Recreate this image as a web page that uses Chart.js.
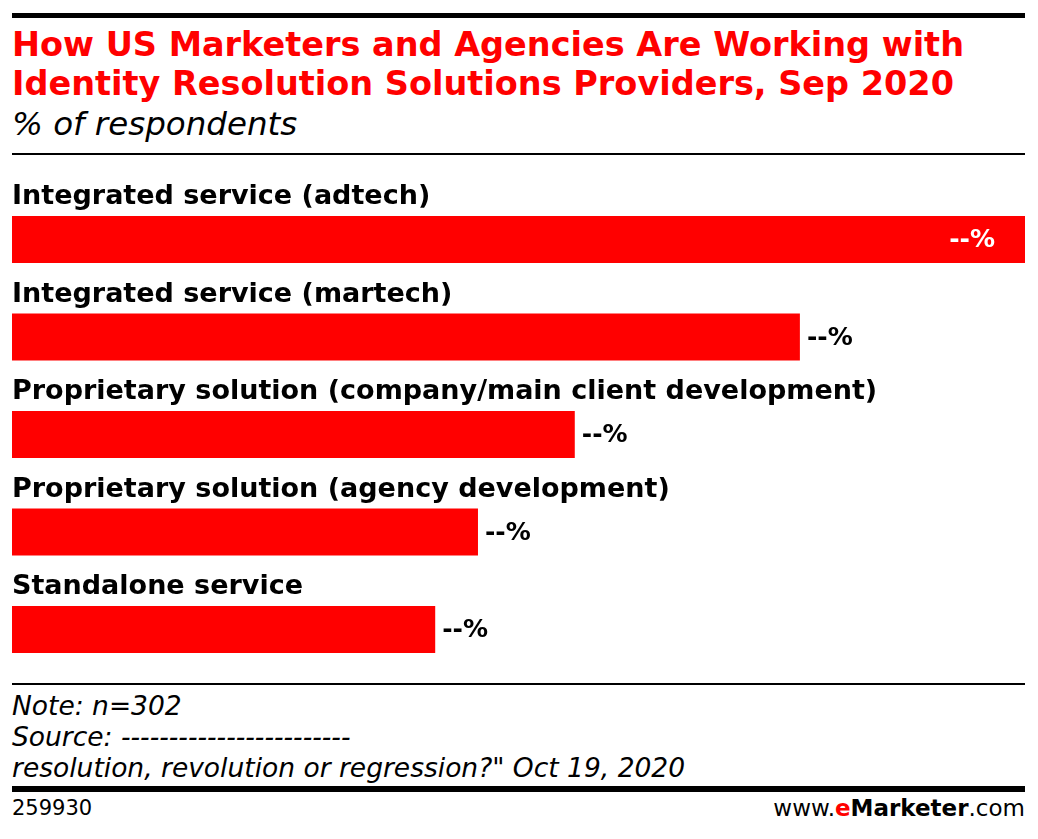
<!DOCTYPE html>
<html>
<head>
<meta charset="utf-8">
<script src="https://cdn.jsdelivr.net/npm/chart.js@4"></script>
<style>
  html, body { margin: 0; padding: 0; background: #fff; }
  body { width: 1038px; height: 839px; position: relative; overflow: hidden; font-family: "DejaVu Sans", sans-serif; }
  .rule { position: absolute; left: 12px; width: 1013px; background: #000; }
  #title { position: absolute; left: 12px; top: 25px; margin: 0; color: #ff0000; font: bold 33.5px/39px "DejaVu Sans", sans-serif; white-space: nowrap; }
  #subtitle { position: absolute; left: 12px; top: 106px; font: oblique 32.5px/36px "DejaVu Sans", sans-serif; color: #000; white-space: nowrap; }
  #notes { position: absolute; left: 12px; top: 690px; font: oblique 26.5px/31px "DejaVu Sans", sans-serif; color: #000; white-space: nowrap; }
  #id { position: absolute; left: 12px; top: 796px; font: 21px/24px "DejaVu Sans", sans-serif; color: #000; }
  #brand { position: absolute; right: 13px; top: 796px; font: 23px/24px "DejaVu Sans", sans-serif; color: #000; }
  #brand b { font-weight: bold; }
  #brand .e { color: #ff0000; font-weight: bold; }
  #wrap { position: absolute; left: 12px; top: 160px; width: 1013px; height: 520px; }
</style>
</head>
<body>
<div class="rule" style="top:13px;height:5px;"></div>
<h1 id="title">How US Marketers and Agencies Are Working with<br>Identity Resolution Solutions Providers, Sep 2020</h1>
<div id="subtitle">% of respondents</div>
<div class="rule" style="top:153px;height:2px;"></div>
<div id="wrap"><canvas id="c"></canvas></div>
<div class="rule" style="top:683px;height:2px;"></div>
<div id="notes">Note: n=302<br>Source: ------------------------<br>resolution, revolution or regression?" Oct 19, 2020</div>
<div class="rule" style="top:786px;height:6px;"></div>
<div id="id">259930</div>
<div id="brand">www.<span class="e">e</span><b>Marketer</b>.com</div>
<script>
const categories = [
  "Integrated service (adtech)",
  "Integrated service (martech)",
  "Proprietary solution (company/main client development)",
  "Proprietary solution (agency development)",
  "Standalone service"
];
const values = [45, 35, 25, 20.7, 18.8];
const valueLabels = ["--%", "--%", "--%", "--%", "--%"];

const labelFont = 'bold 27px "DejaVu Sans", sans-serif';
const valueFont = 'bold 25px "DejaVu Sans", sans-serif';

const annotate = {
  id: 'annotate',
  afterDatasetsDraw(chart) {
    const ctx = chart.ctx;
    const meta = chart.getDatasetMeta(0);
    const maxV = Math.max(...values);
    ctx.save();
    ctx.textBaseline = 'middle';
    meta.data.forEach((bar, i) => {
      const h = bar.height;
      ctx.font = labelFont;
      ctx.fillStyle = '#000';
      ctx.textAlign = 'left';
      ctx.fillText(categories[i], chart.chartArea.left, bar.y - h / 2 - 19);
      ctx.font = valueFont;
      if (values[i] === maxV) {
        ctx.fillStyle = '#fff';
        ctx.textAlign = 'right';
        ctx.fillText(valueLabels[i], bar.x - 30, bar.y + 1);
      } else {
        ctx.fillStyle = '#000';
        ctx.textAlign = 'left';
        ctx.fillText(valueLabels[i], bar.x + 7, bar.y + 1);
      }
    });
    ctx.restore();
  }
};

new Chart(document.getElementById('c'), {
  type: 'bar',
  data: {
    labels: categories,
    datasets: [{
      data: values,
      backgroundColor: '#ff0000',
      borderWidth: 0,
      barPercentage: 0.482,
      categoryPercentage: 1
    }]
  },
  options: {
    indexAxis: 'y',
    responsive: true,
    maintainAspectRatio: false,
    animation: false,
    layout: { padding: { top: 30.75, bottom: 1.75, left: 0, right: 0 } },
    plugins: { legend: { display: false }, tooltip: { enabled: false } },
    scales: {
      x: { display: false, min: 0, max: Math.max(...values) },
      y: { display: false }
    }
  },
  plugins: [annotate]
});
</script>
</body>
</html>
